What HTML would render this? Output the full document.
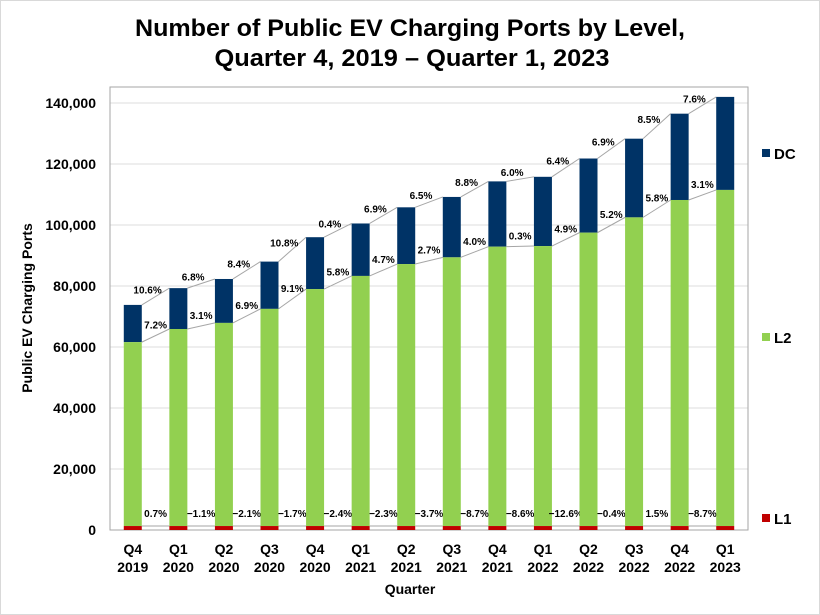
<!DOCTYPE html>
<html><head><meta charset="utf-8"><style>
html,body{margin:0;padding:0;background:#fff}
svg{display:block;font-family:"Liberation Sans",Arial,sans-serif}
</style></head><body>
<svg id="s" width="820" height="615" xmlns="http://www.w3.org/2000/svg">
<rect x="0.5" y="0.5" width="819" height="614" fill="#fff" stroke="#d9d9d9"/>
<text x="410" y="36" text-anchor="middle" font-weight="bold" font-size="24" textLength="550" lengthAdjust="spacingAndGlyphs">Number of Public EV Charging Ports by Level,</text>
<text x="412" y="66" text-anchor="middle" font-weight="bold" font-size="24" textLength="395" lengthAdjust="spacingAndGlyphs">Quarter 4, 2019 – Quarter 1, 2023</text>
<g id="g"></g>
</svg>
<script>
var g=document.getElementById('g'),h='';
var L=110,R=748,T=87,B=530,k=61/20000;
function y(v){return B-v*k}
for(var i=1;i<=7;i++){var yy=y(i*20000);h+='<line x1="'+L+'" x2="'+R+'" y1="'+yy+'" y2="'+yy+'" stroke="#dcdcdc" stroke-width="1"/>';}
h+='<rect x="'+L+'" y="'+T+'" width="'+(R-L)+'" height="'+(B-T)+'" fill="none" stroke="#a6a6a6"/>';
for(var i=0;i<=7;i++){h+='<text x="96" y="'+(y(i*20000)+5)+'" text-anchor="end" font-weight="bold" font-size="14">'+(i==0?'0':(i*20)+',000')+'</text>';}
var tot=[73800,79300,82300,88000,96000,100500,105800,109200,114300,115800,121800,128300,136500,142000];
var l2=[61600,65900,67900,72500,79000,83300,87200,89400,92900,93100,97500,102500,108200,111500];
var l1=1300;
var dcL=['10.6%','6.8%','8.4%','10.8%','0.4%','6.9%','6.5%','8.8%','6.0%','6.4%','6.9%','8.5%','7.6%'];
var l2L=['7.2%','3.1%','6.9%','9.1%','5.8%','4.7%','2.7%','4.0%','0.3%','4.9%','5.2%','5.8%','3.1%'];
var l1L=['0.7%','\u22121.1%','\u22122.1%','\u22121.7%','\u22122.4%','\u22122.3%','\u22123.7%','\u22128.7%','\u22128.6%','\u221212.6%','\u22120.4%','1.5%','\u22128.7%'];
var cw=(R-L)/14,bw=18;
var xl=[['Q4','2019'],['Q1','2020'],['Q2','2020'],['Q3','2020'],['Q4','2020'],['Q1','2021'],['Q2','2021'],['Q3','2021'],['Q4','2021'],['Q1','2022'],['Q2','2022'],['Q3','2022'],['Q4','2022'],['Q1','2023']];
for(var i=0;i<14;i++){
 var c=L+cw*(i+0.5),x0=c-bw/2;
 h+='<rect x="'+x0+'" y="'+y(tot[i])+'" width="'+bw+'" height="'+(y(l2[i])-y(tot[i]))+'" fill="#003366"/>';
 h+='<rect x="'+x0+'" y="'+y(l2[i])+'" width="'+bw+'" height="'+(y(l1)-y(l2[i]))+'" fill="#92d050"/>';
 h+='<rect x="'+x0+'" y="'+y(l1)+'" width="'+bw+'" height="'+(B-y(l1))+'" fill="#c00000"/>';
 h+='<text x="'+c+'" y="554" text-anchor="middle" font-weight="bold" font-size="14">'+xl[i][0]+'</text>';
 h+='<text x="'+c+'" y="572" text-anchor="middle" font-weight="bold" font-size="14">'+xl[i][1]+'</text>';
 if(i<13){
  var xa=c+bw/2,xb=c+cw-bw/2,gc=c+cw/2;
  [[tot,dcL,-3,-8],[l2,l2L,-7,0]].forEach(function(s){
   var ya=y(s[0][i]),yb=y(s[0][i+1]);
   h+='<line x1="'+xa+'" y1="'+ya+'" x2="'+xb+'" y2="'+yb+'" stroke="#a6a6a6" stroke-width="1"/>';
   h+='<text x="'+(gc+s[3])+'" y="'+((ya+yb)/2+s[2])+'" text-anchor="middle" font-weight="bold" font-size="10">'+s[1][i]+'</text>';
  });
  h+='<line x1="'+xa+'" y1="'+y(l1)+'" x2="'+xb+'" y2="'+y(l1)+'" stroke="#a6a6a6" stroke-width="1"/>';
  h+='<text x="'+gc+'" y="517" text-anchor="middle" font-weight="bold" font-size="10">'+l1L[i]+'</text>';
 }
}
h+='<text x="410" y="594" text-anchor="middle" font-weight="bold" font-size="14">Quarter</text>';
h+='<text transform="translate(32,308) rotate(-90)" text-anchor="middle" font-weight="bold" font-size="14">Public EV Charging Ports</text>';
[['DC','#003366',153],['L2','#92d050',337],['L1','#c00000',518]].forEach(function(l){
 h+='<rect x="762" y="'+(l[2]-4)+'" width="8" height="8" fill="'+l[1]+'"/>';
 h+='<text x="774" y="'+(l[2]+6)+'" font-weight="bold" font-size="15">'+l[0]+'</text>';
});
g.innerHTML=h;
</script>
</body></html>
